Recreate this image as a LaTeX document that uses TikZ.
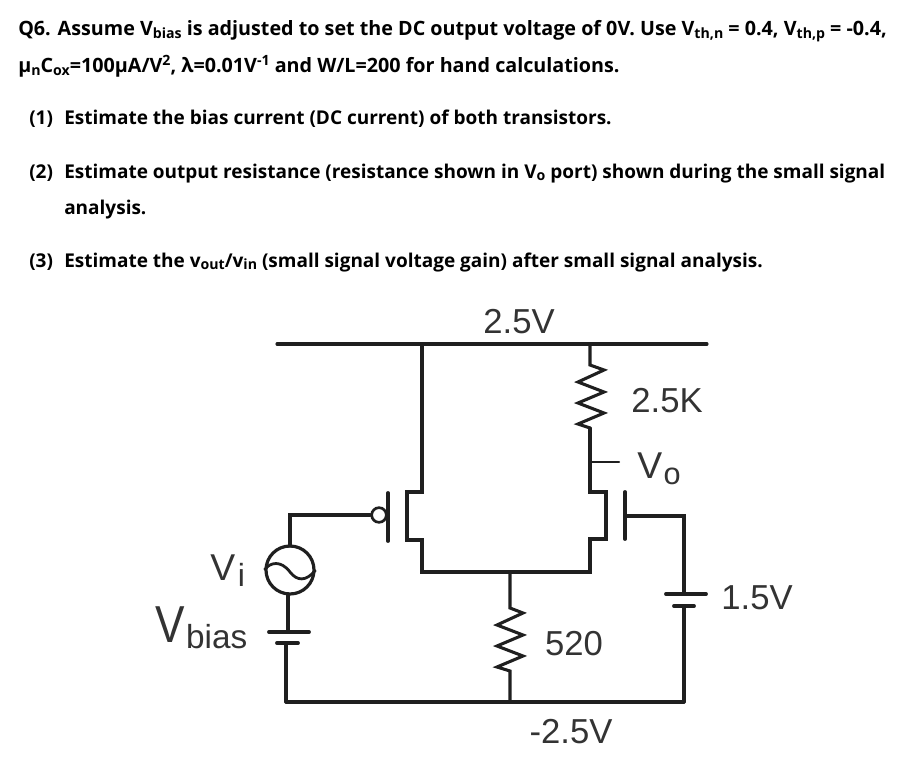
\documentclass[tikz,border=0pt]{standalone}
\usepackage{fontspec}
\setmainfont{Open Sans}
\newfontfamily\lab{Liberation Sans}
\newcommand{\dn}[1]{\raisebox{-0.28ex}{\fontsize{10.6pt}{12pt}\selectfont #1}}
\newcommand{\up}[1]{\raisebox{0.62ex}{\fontsize{10.6pt}{12pt}\selectfont #1}}
\tikzset{
  q/.style={anchor=base west,inner sep=0pt,font=\fontsize{14.25pt}{17pt}\selectfont\bfseries},
  qh/.style={anchor=base west,inner sep=0pt,font=\fontsize{14.8pt}{17pt}\selectfont\bfseries},
  lb/.style={inner sep=0pt,font=\lab\fontsize{26pt}{28pt}\selectfont,text=black!80},
  w/.style={line width=2.3pt,line cap=round,line join=miter,black!88},
  thinw/.style={line width=1.8pt,line cap=round,line join=miter,black!88},
  bar/.style={line width=2.9pt,line cap=round,black!88}
}
\begin{document}
\begin{tikzpicture}[x=0.75pt,y=-0.75pt]
\useasboundingbox (0,0) rectangle (904,757);
% question text
\node[qh] (t1) at (18,35) {Q6. Assume V\dn{bias} is adjusted to set the DC output voltage of 0V. Use V\dn{th,n} = 0.4, V\dn{th,p} = -0.4,};
\node[qh] (t2) at (18,72) {μ\dn{n}C\dn{ox}=100μA/V\up{2}, λ=0.01V\up{-1} and W/L=200 for hand calculations.};
\node[q] (n1) at (29,124) {(1)};
\node[q] (t3) at (64,124) {Estimate the bias current (DC current) of both transistors.};
\node[q] (n2) at (29,178) {(2)};
\node[q] (t4) at (64,178) {Estimate output resistance (resistance shown in V\dn{o} port) shown during the small signal};
\node[q] (t5) at (64,214) {analysis.};
\node[q] (n3) at (29,267) {(3)};
\node[q] (t6) at (64,267) {Estimate the v\dn{out}/v\dn{in} (small signal voltage gain) after small signal analysis.};
% named points
\coordinate (railL) at (277,344);
\coordinate (railR) at (707,344);
\coordinate (pTop) at (422,344);
\coordinate (rTop) at (590,344);
\coordinate (tailJ) at (510,572);
\coordinate (botL) at (286,702);
\coordinate (botR) at (684,702);
\coordinate (botM) at (510,702);
% rails
\draw[w] (railL) -- (railR);
\draw[w] (botL) -- (botR);
% channels
\draw[w] (pTop) -- (422,492) -- (407,492) -- (407,540) -- (422,540) -- (422,572) -- (590,572)
  -- (590,539) -- (606,539) -- (606,492) -- (590,492) -- (590,428);
% drain resistor
\draw[w] (rTop) -- (590,365) -- (604,370) -- (578,382) -- (604,392) -- (578,403) -- (604,413) -- (578,424) -- (590,428);
% Vo tap
\draw[thinw] (590,462) -- (619,462);
% PMOS gate
\draw[bar] (388,493) -- (388,541);
\node[circle,draw=black!88,line width=2pt,minimum size=11pt,inner sep=0pt] (bub) at (379,515) {};
\draw[w] (bub.west) -- (290,515) -- (290,546);
% NMOS gate
\draw[bar] (625,492) -- (625,539);
\draw[w] (625,516) -- (684,516) -- (684,594);
% 1.5V source
\draw[bar] (666,594) -- (706,594);
\draw[bar] (674,606) -- (694,606);
\draw[w] (684,606) -- (botR);
% input source
\node[circle,draw=black!88,line width=2.4pt,minimum size=36pt,inner sep=0pt] (src) at (290,570) {};
\draw[line width=2.1pt,black!88] (src.west) .. controls (270,562) and (281,560) .. (290,572) .. controls (297,581) and (306,582) .. (src.east);
% Vbias
\draw[w] (288,594) -- (288,632);
\draw[bar] (269,632) -- (309,632);
\draw[bar] (277,643) -- (298,643);
\draw[w] (286,643) -- (botL);
% tail resistor
\draw[w] (tailJ) -- (510,608) -- (523,613) -- (497,625) -- (523,635) -- (497,646) -- (523,656) -- (497,667) -- (510,671) -- (botM);
% labels
\node[lb] (l1) at (519,322) {2.5V};
\node[lb] (l2) at (667,401) {2.5K};
\node[lb,anchor=base west] (l3) at (637,478) {\fontsize{28pt}{30pt}\selectfont V\hspace{1pt}\raisebox{-4.5pt}{\fontsize{23pt}{25pt}\selectfont o}};
\node[lb] (l4) at (757,598) {1.5V};
\node[lb] (l5) at (574,644) {520};
\node[lb] (l6) at (571,732) {-2.5V};
\node[lb,anchor=base west] (l7) at (210,580) {\fontsize{28pt}{30pt}\selectfont V\hspace{2pt}\raisebox{-4.5pt}{\fontsize{24pt}{26pt}\selectfont i}};
\node[lb,anchor=base west] (l8) at (155,642) {\fontsize{39pt}{41pt}\selectfont\scalebox{0.85}[1]{V}\hspace{1pt}\raisebox{-5.2pt}{\fontsize{25pt}{27pt}\selectfont bias}};
\end{tikzpicture}
\end{document}
